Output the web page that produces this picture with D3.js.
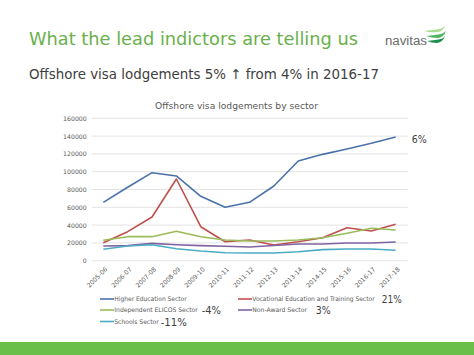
<!DOCTYPE html>
<html><head><meta charset="utf-8">
<script src="https://cdn.jsdelivr.net/npm/d3@7"></script>
<style>body{margin:0;background:#fff}svg{display:block}</style>
</head><body>
<svg id="c" width="474" height="355"></svg>
<script>
const years = ["2005-06","2006-07","2007-08","2008-09","2009-10","2010-11","2011-12","2012-13","2013-14","2014-15","2015-16","2016-17","2017-18"];
const higherEd = [65600,82500,98900,95200,72300,60000,65600,83900,112000,119500,125500,131900,139000];
const vocational = [20200,32600,49100,91800,38200,21300,23300,17600,21300,25800,37100,33400,40900];
const elicos = [22900,27000,27000,33000,27000,23300,22100,22100,23300,25800,30800,36400,34500];
const nonAward = [16500,16900,19500,18000,16900,16200,15400,17000,18800,18800,19900,19900,21000];
const schools = [12800,16500,18000,13500,10900,9000,8600,8600,10100,12400,13100,13100,11700];
const yTicks = [0,20000,40000,60000,80000,100000,120000,140000,160000];
const seriesNames = ["Higher Education Sector","Vocational Education and Training Sector","Independent ELICOS Sector","Non-Award Sector","Schools Sector"];
const seriesChange = ["","21%","-4%","3%","-11%"];
const colors = ["#4A72AA","#C0504D","#9BBB59","#8064A2","#4BACC6"];

const svg = d3.select("#c");
const font = "'DejaVu Sans', Verdana, sans-serif";

function fitText(sel, w){ sel.attr("textLength", w).attr("lengthAdjust","spacingAndGlyphs"); return sel; }

fitText(svg.append("text").attr("x",29).attr("y",45).attr("font-family",font).attr("font-size",18)
  .attr("fill","#6ab04c").text("What the lead indictors are telling us"), 329);
fitText(svg.append("text").attr("x",29).attr("y",79.3).attr("font-family",font).attr("font-size",13.5)
  .attr("fill","#404040").text("Offshore visa lodgements 5% \u2191 from 4% in 2016-17"), 350);

// logo
const logo = svg.append("g");
fitText(logo.append("text").attr("x",385).attr("y",44.5).attr("font-family","'Liberation Sans', Arial, sans-serif")
  .attr("font-size",12.5).attr("fill","#6b6b6b").text("navitas"), 42);
const sw = [
  ["M424,31 Q434,30 440,29 Q443,28 445,26 Q443,31 438,32 Q431,33 424,31 Z","#a8dc8c"],
  ["M426,36 Q436,35 441,34 Q444,33 446,31 Q444,37 438,38 Q432,38 426,36 Z","#4db560"],
  ["M427,41 Q436,40 441,39 Q444,38 445,36 Q443,42 437,43 Q432,43 427,41 Z","#1f8f4c"]];
sw.forEach(([d,c])=>logo.append("path").attr("d",d).attr("fill",c));

fitText(svg.append("text").attr("x",155).attr("y",109).attr("font-family",font)
  .attr("font-size",9.5).attr("fill","#595959").text("Offshore visa lodgements by sector"), 163);

const x = d3.scalePoint().domain(years).range([103.3,395.7]);
const y = d3.scaleLinear().domain([0,160000]).range([260.7,118.3]);

const grid = svg.append("g");
yTicks.forEach(t=>{
  grid.append("line").attr("x1",91.7).attr("x2",407.7).attr("y1",y(t)).attr("y2",y(t))
    .attr("stroke","#e3e3e3").attr("stroke-width",1);
});
const yAxis = svg.append("g").attr("transform","translate(91.7,0)")
  .call(d3.axisLeft(y).tickValues(yTicks).tickSize(0).tickPadding(5).tickFormat(d3.format("d")));
yAxis.select(".domain").remove();
yAxis.selectAll("text").attr("font-family",font).attr("font-size",6.2).attr("fill","#595959");

const xAxis = svg.append("g").attr("transform","translate(0,260.7)")
  .call(d3.axisBottom(x).tickSize(0).tickPadding(0));
xAxis.select(".domain").remove();
xAxis.selectAll("text").attr("font-family",font).attr("font-size",6.2).attr("fill","#595959")
  .attr("text-anchor","end").attr("dy",0).attr("transform","translate(4,9) rotate(-45)");

const all = [higherEd,vocational,elicos,nonAward,schools];
const line = d3.line().x((d,i)=>x(years[i])).y(d=>y(d));
all.forEach((s,k)=>{
  svg.append("path").datum(s).attr("d",line).attr("fill","none").attr("stroke",colors[k])
    .attr("stroke-width",1.6).attr("stroke-linejoin","round");
});

fitText(svg.append("text").attr("x",411.7).attr("y",142.5).attr("font-family",font).attr("font-size",10.5)
  .attr("fill","#404040").text("6%"), 15);

// legend
const legPos = [[100,299],[238,299],[100,310],[238,310],[100,321.5]];
const nameW = [72.4,122.3,83.4,54.6,44.4];
const pctX = [null,381.7,201.7,315.7,160.7];
const pctW = [0,20,19.3,15,26.3];
legPos.forEach(([lx,ly],k)=>{
  svg.append("line").attr("x1",lx).attr("x2",lx+14).attr("y1",ly).attr("y2",ly).attr("stroke",colors[k]).attr("stroke-width",1.6);
  fitText(svg.append("text").attr("x",lx+14.3).attr("y",ly+2.3).attr("font-family",font).attr("font-size",6.3)
    .attr("fill","#595959").text(seriesNames[k]), nameW[k]);
  if (seriesChange[k]) fitText(svg.append("text").attr("x",pctX[k]).attr("y",ly+4).attr("font-family",font)
    .attr("font-size",10.5).attr("fill","#404040").text(seriesChange[k]), pctW[k]);
});

svg.append("rect").attr("x",0).attr("y",342).attr("width",474).attr("height",13).attr("fill","#6abf4b");
</script>
</body></html>
